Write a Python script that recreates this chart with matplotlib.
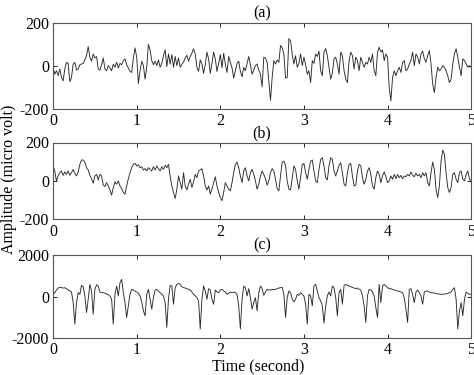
import numpy as np
import matplotlib
matplotlib.use("Agg")
import matplotlib.pyplot as plt

plt.rcParams["font.family"] = ["Liberation Serif", "DejaVu Serif"]
plt.rcParams["axes.unicode_minus"] = False

# sampling of the traced signals (Hz), 5 seconds per panel
FS = 50

# (a) amplitude, micro volt
sig_a = [
    -6, -38, -22, -45, -14, -53, -69, -14, 17, 12,
    -73, -53, 9, 17, -19, -14, 6, 9, 12, 28,
    48, 90, 41, 22, 56, 37, 44, -14, -19, 6,
    37, -14, -22, 2, -9, -22, 9, -6, 17, -9,
    12, 6, 25, 33, 6, -9, -25, -30, 37, 84,
    41, -81, -22, 22, 2, -61, -6, 100, 75, 25,
    6, 22, 2, 28, -6, 12, 48, 75, -3, 56,
    9, 53, -6, 44, 2, 37, -6, 9, 17, 37,
    50, 22, 44, 59, 80, 56, -6, -25, 28, 9,
    -34, 6, 64, 33, -34, 12, 64, 33, -25, 12,
    53, -9, 59, 9, -30, 44, 17, -9, -56, -22,
    12, 22, -25, -50, -6, -22, 12, 44, 6, -38,
    -19, 2, 9, -19, -38, -97,
    41, 37, 17, -69, -159, -53, 25, 9, 28, 17,
    95, 84, 56, -56, -53, 127, 116, 53, 9, 48,
    -6, 12, 56, 2, 41, 6, -38, -22, -77, 25,
    12, 56, 44, 69, -22, -45, 64, 81, 48, -6,
    -61, -34, 33, 41, 9, -38, 64, 48, -22, -61,
    -77, 25, 64, 48, -14, 41, 25, -22, 41, 17,
    -6, 17, 9, 41, 17, 56, -22, -45, 64, 87,
    64, 75, 25, 56, 41, -100, -162, -53, -22, -45,
    -22, -6, -30, 17, 25, -22, -14, 9, 25, 64,
    2, 56, 41, 9, 56, 69, 33, 17, 48, 72,
    9, -84, -123, -53, -6, -22, -14, 2, -6, -22,
    -45, -77, -61, 9, 56, 80, 41, -6, -45, 33,
    25, 9, -6, 2, -6,
]

# (b)
sig_b = [
    78, 52, 0, 26, 43, 52, 29, 47, 34, 52,
    29, 43, 60, 40, 26, 47, 86, 109, 109, 98,
    69, 57, 29, 12, -12, 26, 34, 5, 34, 26,
    -22, -29, -9, -26, -47, -74, -34, -5, -17, 0,
    -26, -40, -60, -69, -26, 12, 43, 69, 86, 91,
    78, 84, 69, 74, 57, 64, 52, 69, 60, 52,
    74, 57, 78, 64, 52, 74, 60, 81, 69, 86,
    26, -26, -60, -91, -43, 26, -9, -43, 43, -26,
    -47, -17, 9, -34, -5, 34, 17, 52, 57, 64,
    26, -26, -47, -26, -69, -43, -9, 22, -26, -60,
    -86, -103, -60, -9, -26, -43, -52, -9, 43, 86,
    98, 69, 26, -9, 52, 69, 26, 0, 43, 60,
    34, 0, -43, -17, 26, 52,
    34, 12, -22, 0, 43, 64, 52, 9, -40, -52,
    26, 98, 103, 81, 0, -43, -47, 17, 78, 60,
    0, -43, 17, 86, 91, 43, 9, 60, 103, 109,
    52, 0, -9, 60, 112, 121, 78, 17, 5, 78,
    121, 112, 52, 26, 52, 81, 95, 43, -17, -26,
    43, 86, 91, 26, -26, -22, 52, 86, 78, 17,
    -17, 9, 52, 69, 34, -26, -43, 17, 52, 34,
    -9, 26, 47, 22, -9, 0, 26, 9, 34, 12,
    34, 17, 29, 12, 26, 22, 34, 26, 47, 29,
    22, 40, 26, 34, 17, 43, 26, 43, -9, -26,
    43, 98, 60, -43, -86, -26, 103, 160, 138, 43,
    -34, -60, -34, 34, 43, 9, -9, 43, 52, 9,
    0, 34, 52, 9, 0,
]

# (c)
sig_c = [
    111, 190, 317, 413, 444, 428, 413, 428, 381, 317,
    286, 222, -286, -1317, -286, 190, 111, 540, 476, 32,
    -762, -127, 587, 270, -841, 349, 571, 508, 222, 190,
    190, 159, 127, 95, 32, -127, -1317, 111, 508, 32,
    667, 825, 190, -286, -1000, -444, 111, 349, 317, 270,
    222, 159, 32, -254, -682, -920, 111, 349, -127, -603,
    -48, 317, 349, 270, 190, 111, 32, -286, -1476, -127,
    540, 508, -365, 428, 587, 635, 587, 476, 428, 413,
    381, 349, 317, 222, 111, 32, -48, -206, -1555, -127,
    508, 270, -127, 381, 317, -127, -365, 317, 222, 190,
    317, 349, 270, 222, 111, 159, 222, 190, 222, 190,
    111, -444, -1555, -127, 508, 428, 32, 381, -48, -603,
    -286, -48, -682, 190, 508, 381,
    63, 222, 349, 317, 317, 349, 333, 349, 381, 413,
    428, 444, 111, -1000, -48, 270, 190, -127, -254, -127,
    111, 63, 190, 111, 32, -365, -1317, 111, 32, -444,
    508, 587, 270, -48, -206, -444, -1270, -444, 32, 222,
    32, 508, 428, -48, -920, 190, 349, -365, 540, 587,
    540, 508, 476, 444, 413, 381, 413, 349, 317, 32,
    -444, -1238, 32, 349, 317, 222, 32, -524, -1000, 587,
    -286, 508, 587, 508, 428, 381, 381, 349, 317, 286,
    270, 254, 222, 190, -48, -603, -1238, 349, 381, 111,
    -286, 222, 317, 190, 32, -365, 222, 270, 270, 222,
    190, 190, 159, 159, 127, 127, 111, 111, 127, 127,
    159, 190, 222, 349, 428, -127, -1555, -682, -286, -920,
    -127, 222, 159, 111, 111,
]

titles = ["(a)", "(b)", "(c)"]
signals = [sig_a, sig_b, sig_c]
ylims = [200, 200, 2000]
xticks = [0, 1, 2, 3, 4, 5]

# axes boxes in figure fractions: left, bottom, width, height
boxes = [
    (0.112, 0.709, 0.882, 0.230),
    (0.112, 0.415, 0.882, 0.205),
    (0.112, 0.098, 0.882, 0.222),
]

fig = plt.figure(figsize=(4.74, 3.75), dpi=100)

for title, sig, lim, box in zip(titles, signals, ylims, boxes):
    ax = fig.add_axes(box)
    t = np.arange(len(sig)) / FS
    ax.plot(t, sig, color="#2a2a2a", lw=0.65)
    ax.set_xlim(0, 5)
    ax.set_ylim(-lim, lim)
    ax.set_xticks(xticks)
    ax.set_yticks([-lim, 0, lim])
    ax.tick_params(direction="in", length=3, width=0.6, top=True, right=True,
                   labelsize=11.5, pad=3)
    for sp in ax.spines.values():
        sp.set_color("#555555")
        sp.set_linewidth(0.8)
    ax.set_title(title, fontsize=11.5, pad=4)

fig.text(0.018, 0.523, "Amplitude (micro volt)", rotation=90,
         ha="center", va="center", fontsize=11.5)
fig.text(0.545, 0.024, "Time (second)", ha="center", va="center",
         fontsize=11.5)

fig.savefig("out.png", dpi=100)
